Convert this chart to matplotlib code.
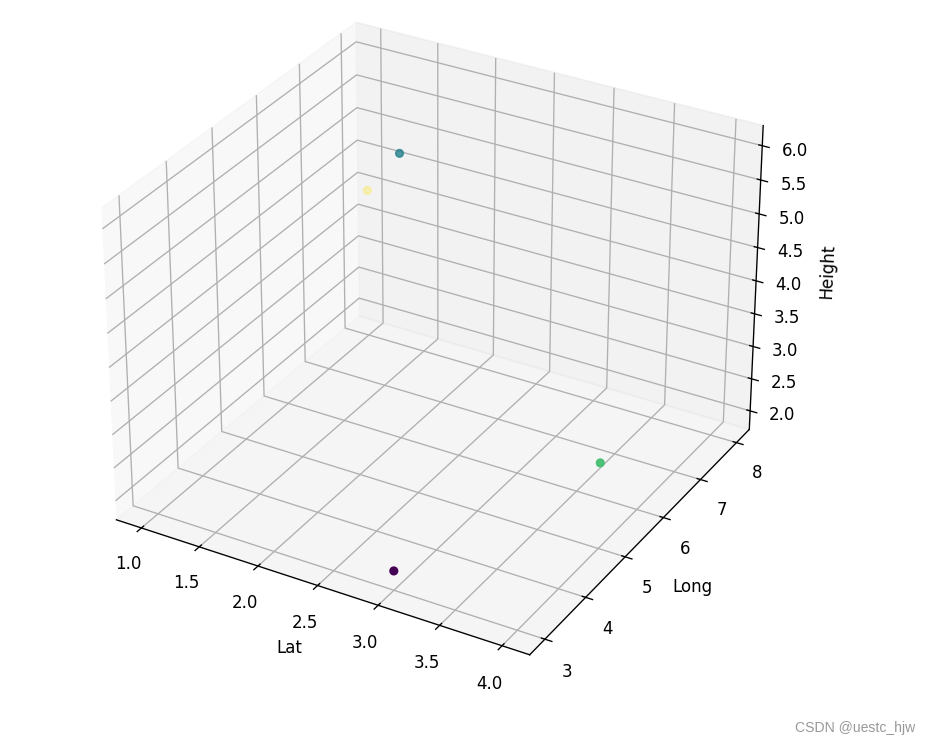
import matplotlib
matplotlib.use("Agg")
from matplotlib import pyplot as plt

lat = [1, 2, 3, 4]
long = [8, 6, 3, 5]
height = [4, 6, 2, 3]
colors = [1.0, 0.44, 0.0, 0.7]

fig = plt.figure(figsize=(7.75, 6.2), dpi=120)
ax = fig.add_axes([-0.019, 0.0575, 0.96, 0.989], projection="3d")
ax.scatter(lat, long, height, c=colors, cmap="viridis")
ax.tick_params(pad=4)
ax.set_xlabel("Lat", labelpad=5.5)
ax.set_ylabel("Long", labelpad=5.5)
ax.set_zlabel("Height", labelpad=5.5)

fig.text(0.984, 0.012, "CSDN @uestc_hjw", ha="right", va="bottom", fontsize=8.4,
         family="Liberation Sans", color="#999999")
fig.savefig("out.png", dpi=120)
